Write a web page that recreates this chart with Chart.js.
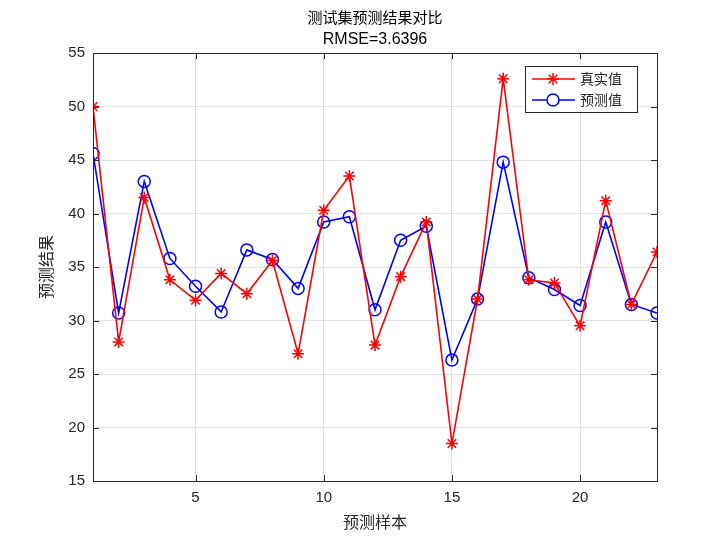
<!DOCTYPE html>
<html>
<head>
<meta charset="utf-8">
<script src="https://cdn.jsdelivr.net/npm/chart.js@4"></script>
<style>
  html, body { margin: 0; padding: 0; background: #fff; }
  #wrap { width: 720px; height: 540px; }
</style>
</head>
<body>
<div id="wrap"><canvas id="c" width="720" height="540"></canvas></div>
<script>
// sample index 1..23
const samples = Array.from({ length: 23 }, (_, i) => i + 1);
const trueValues = [50.0, 28.0, 41.5, 33.8, 31.9, 34.4, 32.5, 35.6, 26.9, 40.3, 43.5, 27.7,
                    34.1, 39.2, 18.5, 32.0, 52.6, 33.8, 33.5, 29.5, 41.2, 31.5, 36.4];
const predValues = [45.6, 30.7, 43.0, 35.8, 33.2, 30.8, 36.6, 35.7, 33.0, 39.2, 39.7, 31.0,
                    37.5, 38.8, 26.3, 32.0, 44.8, 34.0, 32.9, 31.4, 39.2, 31.5, 30.7];
const xTicks = [5, 10, 15, 20];
const yTicks = [15, 20, 25, 30, 35, 40, 45, 50, 55];
const titleLines = ['测试集预测结果对比', 'RMSE=3.6396'];
const seriesNames = ['真实值', '预测值'];

const CJK = '"Noto Sans CJK SC", sans-serif';
const LAT = '"Liberation Sans", Arial, sans-serif';

// frame, titles and legend drawn on top of the chart area
const decor = {
    id: 'decor',
    afterDraw(chart) {
        const { ctx, chartArea: a } = chart;
        const xs = chart.scales.x, ys = chart.scales.y;
        ctx.save();
        ctx.strokeStyle = '#262626';
        ctx.lineWidth = 1;
        ctx.strokeRect(a.left + 0.5, a.top + 0.5, a.right - a.left, a.bottom - a.top);
        // inner ticks on all four sides
        ctx.beginPath();
        xTicks.forEach(v => {
            const x = Math.round(xs.getPixelForValue(v)) + 0.5;
            ctx.moveTo(x, a.bottom); ctx.lineTo(x, a.bottom - 6);
            ctx.moveTo(x, a.top); ctx.lineTo(x, a.top + 6);
        });
        yTicks.forEach(v => {
            const y = Math.round(ys.getPixelForValue(v)) + 0.5;
            ctx.moveTo(a.left, y); ctx.lineTo(a.left + 6, y);
            ctx.moveTo(a.right, y); ctx.lineTo(a.right - 6, y);
        });
        ctx.stroke();

        // title
        ctx.fillStyle = '#000';
        ctx.textAlign = 'center';
        ctx.textBaseline = 'middle';
        const cx = (a.left + a.right) / 2;
        ctx.font = '15px ' + CJK;
        ctx.fillText(titleLines[0], cx, 17);
        ctx.font = '16px ' + LAT;
        ctx.fillText(titleLines[1], cx, 40);

        // axis titles
        ctx.fillStyle = '#262626';
        ctx.font = '16px ' + CJK;
        ctx.fillText('预测样本', cx, 522);
        ctx.save();
        ctx.translate(46, (a.top + a.bottom) / 2);
        ctx.rotate(-Math.PI / 2);
        ctx.fillText('预测结果', 0, 0);
        ctx.restore();

        // legend box
        const bx = 525, by = 66, bw = 112, bh = 46;
        ctx.fillStyle = '#fff';
        ctx.fillRect(bx, by, bw, bh);
        ctx.strokeStyle = '#262626';
        ctx.strokeRect(bx + 0.5, by + 0.5, bw, bh);
        const rows = [
            { y: by + 13, color: '#ff0000', style: 'star' },
            { y: by + 34, color: '#0000ff', style: 'circle' }
        ];
        rows.forEach((r, i) => {
            ctx.strokeStyle = r.color;
            ctx.lineWidth = 1.5;
            ctx.beginPath();
            ctx.moveTo(bx + 7, r.y); ctx.lineTo(bx + 50, r.y);
            ctx.stroke();
            ctx.fillStyle = '#fff';
            Chart.helpers.drawPoint(ctx, { pointStyle: r.style, radius: 6, borderWidth: 1.5 }, bx + 28, r.y);
            ctx.fillStyle = '#262626';
            ctx.textAlign = 'left';
            ctx.font = '14px ' + CJK;
            ctx.fillText(seriesNames[i], bx + 55, r.y);
        });
        ctx.restore();
    }
};

new Chart(document.getElementById('c'), {
    type: 'line',
    data: {
        labels: samples,
        datasets: [
            {
                label: seriesNames[0],
                data: samples.map((s, i) => ({ x: s, y: trueValues[i] })),
                borderColor: '#ff0000',
                backgroundColor: '#ff0000',
                borderWidth: 1.6,
                pointStyle: 'star',
                pointRadius: 6,
                pointBorderWidth: 1.5,
                tension: 0
            },
            {
                label: seriesNames[1],
                data: samples.map((s, i) => ({ x: s, y: predValues[i] })),
                borderColor: '#0000ff',
                backgroundColor: 'rgba(0,0,0,0)',
                borderWidth: 1.6,
                pointStyle: 'circle',
                pointRadius: 6,
                pointBorderWidth: 1.5,
                tension: 0
            }
        ]
    },
    options: {
        responsive: false,
        animation: false,
        layout: { padding: { top: 53, right: 63, left: 0, bottom: 0 } },
        plugins: { legend: { display: false }, title: { display: false }, tooltip: { enabled: false } },
        scales: {
            x: {
                type: 'linear', min: 1, max: 23,
                afterBuildTicks: s => { s.ticks = xTicks.map(v => ({ value: v })); },
                afterFit: s => { s.height = 59; },
                grid: { color: '#e3e3e3', drawTicks: false },
                border: { display: false },
                ticks: { color: '#262626', font: { size: 15, family: LAT }, padding: 8 }
            },
            y: {
                min: 15, max: 55,
                afterBuildTicks: s => { s.ticks = yTicks.map(v => ({ value: v })); },
                afterFit: s => { s.width = 93; },
                grid: { color: '#e3e3e3', drawTicks: false },
                border: { display: false },
                ticks: { color: '#262626', font: { size: 15, family: LAT }, padding: 8 }
            }
        }
    },
    plugins: [decor]
});
</script>
</body>
</html>
